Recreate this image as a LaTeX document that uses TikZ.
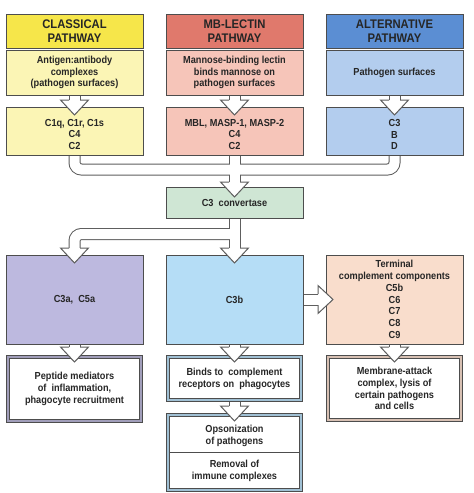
\documentclass[tikz,border=0pt]{standalone}
\usepackage{fontspec}
\setmainfont{Liberation Sans}[FakeStretch=0.9]
\usepackage{tikz}
\usetikzlibrary{backgrounds}

\definecolor{lineGray}{HTML}{4D4D4D}
\definecolor{pipeGray}{HTML}{5E5E5E}
\definecolor{textGray}{HTML}{262626}
\definecolor{yellowHead}{HTML}{F6E64A}
\definecolor{yellowBox}{HTML}{FBF5B5}
\definecolor{redHead}{HTML}{E0796C}
\definecolor{redBox}{HTML}{F6C5B9}
\definecolor{blueHead}{HTML}{5B8ED3}
\definecolor{blueBox}{HTML}{B3CDEE}
\definecolor{convGreen}{HTML}{CFE6D4}
\definecolor{lavender}{HTML}{BDB9DF}
\definecolor{skyBlue}{HTML}{B5DDF6}
\definecolor{peach}{HTML}{F9DDCC}

\tikzset{
  box/.style={draw=lineGray, line width=0.8pt, align=center, inner sep=0pt,
    minimum width=137pt, text=textGray,
    font=\bfseries\fontsize{10.2}{11.8}\selectfont},
  headbox/.style={box, font=\bfseries\fontsize{12.5}{13.5}\selectfont},
  dbox/.style={box, fill=white, minimum width=132.8pt, double distance=2.6pt},
  txt/.style={align=center, inner sep=0pt, text=textGray,
    font=\bfseries\fontsize{10.2}{11.8}\selectfont},
  pipeOut/.style={draw=pipeGray, line width=12pt, rounded corners=7pt},
  pipeIn/.style={draw=white, line width=10pt, rounded corners=7pt},
  tipshape/.style={fill=white, draw=pipeGray, line width=1pt, line join=miter},
}

% block arrow heads, drawn open at the base so the shaft runs into them
\newcommand{\downTip}[1]{\filldraw[tipshape] (#1) ++(-5.5,0) -- ++(-8.5,0) -- ++(14,15) -- ++(14,-15) -- ++(-8.5,0);}
\newcommand{\rightTip}[1]{\filldraw[tipshape] (#1) ++(0,-5.5) -- ++(0,-8.5) -- ++(15,14) -- ++(-15,14) -- ++(0,-8.5);}
% taller first line, pushes the text below the arrow tip
\newcommand{\lowStrut}{\rule{0pt}{14pt}}

% all pipes of the picture, drawn twice (outline, then white inside)
\newcommand{\pipeNet}[1]{
  \foreach \src/\dst in {classSrc/classIn, mblSrc/mblIn, altSrc/altIn,
      mblComp/convIn, conv/c3bIn, c3a/pepIn, c3b/bindIn, term/memIn, bind/opsIn}
    {\draw[#1] (\src.south) -- (\dst);}
  \draw[#1] (classComp.south) |- (mergeT);
  \draw[#1] (altComp.south) |- (mergeT);
  \draw[#1] (splitT) -| (c3aIn);
  \draw[#1] (c3b.east) -- (termIn);
}

\begin{document}
\begin{tikzpicture}[x=1pt, y=-1pt]
    \useasboundingbox (0,0) rectangle (474,493);

    % pathway columns
    \node[headbox, fill=yellowHead, minimum height=34pt] (classHead) at (74.5,31) {CLASSICAL\\PATHWAY};
    \node[headbox, fill=redHead, minimum height=34pt] (mblHead) at (234.5,31) {MB-LECTIN\\PATHWAY};
    \node[headbox, fill=blueHead, minimum height=34pt] (altHead) at (394.5,31) {ALTERNATIVE\\PATHWAY};

    \node[box, fill=yellowBox, minimum height=45pt] (classSrc) at (74.5,72.5) {Antigen:antibody\\complexes\\(pathogen surfaces)};
    \node[box, fill=redBox, minimum height=45pt] (mblSrc) at (234.5,72.5) {Mannose-binding lectin\\binds mannose on\\pathogen surfaces};
    \node[box, fill=blueBox, minimum height=45pt] (altSrc) at (394.5,72.5) {Pathogen surfaces};

    \node[box, fill=yellowBox, minimum height=48pt] (classComp) at (74.5,131) {\lowStrut C1q, C1r, C1s\\C4\\C2};
    \node[box, fill=redBox, minimum height=48pt] (mblComp) at (234.5,131) {\lowStrut MBL, MASP-1, MASP-2\\C4\\C2};
    \node[box, fill=blueBox, minimum height=48pt] (altComp) at (394.5,131) {\lowStrut C3\\B\\D};

    \node[box, fill=convGreen, minimum height=31pt] (conv) at (234.5,202.5) {C3\ \ convertase};

    % effector row
    \node[box, fill=lavender, minimum height=89pt] (c3a) at (74.5,299.5) {C3a,\ \ C5a};
    \node[box, fill=skyBlue, minimum height=89pt] (c3b) at (234.5,299.5) {C3b};
    \node[box, fill=peach, minimum height=89pt] (term) at (394.5,299.5) {Terminal\\complement components\\C5b\\C6\\C7\\C8\\C9};

    \node[dbox, double=lavender!75!lineGray, minimum height=63.8pt] (pep) at (74.5,389) {Peptide mediators\\of\ \ inflammation,\\phagocyte recruitment};
    \node[dbox, double=skyBlue!80!lineGray, minimum height=42.8pt] (bind) at (234.5,378.5) {Binds to\ \ complement\\receptors on\ \ phagocytes};
    \node[dbox, double=peach!80!lineGray, minimum height=62.8pt] (mem) at (394.5,388.5) {Membrane-attack\\complex, lysis of\\certain pathogens\\and cells};

    \node[dbox, double=skyBlue!80!lineGray, minimum height=74.8pt] (ops) at (234.5,452.5) {};
    \draw[lineGray, line width=0.8pt, shorten <=1.7pt, shorten >=1.7pt] (ops.west) -- (ops.east);
    \node[txt] (opsTop) at (234.5,436) {Opsonization\\of pathogens};
    \node[txt] (opsBot) at (234.5,471) {Removal of\\immune complexes};

    % arrow bases and pipe joints
    \coordinate (classIn) at (74.5,100);
    \coordinate (mblIn) at (234.5,100);
    \coordinate (altIn) at (394.5,100);
    \coordinate (mergeT) at (234.5,169.5);
    \coordinate (convIn) at (234.5,182);
    \coordinate (splitT) at (234.5,234);
    \coordinate (c3aIn) at (74.5,248);
    \coordinate (c3bIn) at (234.5,248);
    \coordinate (termIn) at (318,299.5);
    \coordinate (pepIn) at (74.5,347);
    \coordinate (bindIn) at (234.5,347);
    \coordinate (memIn) at (394.5,347);
    \coordinate (opsIn) at (234.5,406);

    \begin{pgfonlayer}{background}
        \pipeNet{pipeOut}
        \pipeNet{pipeIn}
    \end{pgfonlayer}

    \foreach \p in {classIn, mblIn, altIn, convIn, c3aIn, c3bIn, pepIn, bindIn, memIn, opsIn}
        {\downTip{\p}}
    \rightTip{termIn}
\end{tikzpicture}
\end{document}
